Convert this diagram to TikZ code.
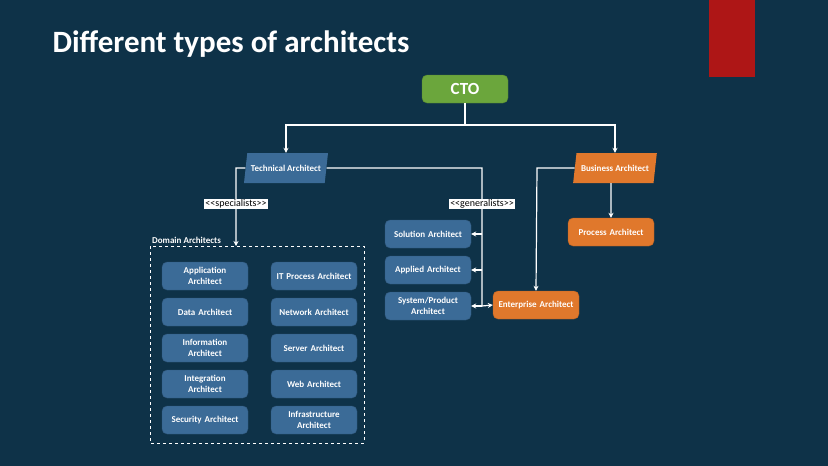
\documentclass[tikz,border=0pt]{standalone}
\usepackage{fontspec}
\setmainfont{Carlito}
\usetikzlibrary{shapes.geometric,arrows.meta}
\definecolor{bg}{HTML}{0E3248}
\definecolor{nblue}{HTML}{3B6B97}
\definecolor{norange}{HTML}{E0782C}
\definecolor{ngreen}{HTML}{6BA63C}
\definecolor{bred}{HTML}{AE1616}
\tikzset{
 x=1pt,y=-1pt,
 box/.style={rounded corners=5pt,minimum width=86pt,minimum height=28pt,text width=78pt,align=center,font=\fontsize{9}{10.5}\selectfont\bfseries,text=white,inner sep=1pt},
 bluebox/.style={box,fill=nblue,draw=nblue!80!black},
 orbox/.style={box,fill=norange,draw=norange!80!black},
 para/.style={trapezium,trapezium left angle=70,trapezium right angle=110,minimum width=84pt,minimum height=30pt,inner sep=1pt,font=\fontsize{9}{10.5}\selectfont\bfseries,text=white,trapezium stretches=true},
 conn/.style={draw=white,line width=1.2pt,-{Stealth[length=5pt,width=5pt]}},
 line/.style={draw=white,line width=1.2pt},
 tag/.style={fill=white,text=black,font=\fontsize{10}{11}\selectfont,inner sep=1pt}
}
\begin{document}
\begin{tikzpicture}
\fill[bg] (0,0) rectangle (828,466);
\useasboundingbox (0,0) rectangle (828,466);
\fill[bred] (709,0) rectangle (755,77);
\node[anchor=west,text=white,font=\fontsize{31}{34}\selectfont\bfseries] (title) at (49,44) {Different types of architects};
\node[box,fill=ngreen,draw=ngreen!80!black,minimum height=28pt,font=\fontsize{17}{19}\selectfont\bfseries] (cto) at (465,89) {CTO};
\node[para,fill=nblue] (tech) at (286,168) {Technical Architect};
\node[para,fill=norange] (bus) at (615,168) {Business Architect};
\node[orbox] (proc) at (611,232) {Process Architect};
\node[orbox] (ent) at (536,305) {Enterprise Architect};
\node[bluebox] (sol) at (428,234) {Solution Architect};
\node[bluebox] (app) at (428,270) {Applied Architect};
\node[bluebox] (sys) at (428,306) {System/Product Architect};
\draw[white,dashed,line width=0.8pt] (150,246) rectangle (364,443);
\coordinate (dtop) at (236,246);
\node[anchor=south west,text=white,font=\fontsize{9}{10.5}\selectfont\bfseries,inner sep=1pt] (dlab) at (151,245) {Domain Architects};
\foreach \n/\t/\y in {a1/Application Architect/276,a2/Data Architect/312,a3/Information Architect/348,a4/Integration Architect/384,a5/Security Architect/420}
  \node[bluebox] (\n) at (205,\y) {\t};
\foreach \n/\t/\y in {b1/IT Process Architect/276,b2/Network Architect/312,b3/Server Architect/348,b4/Web Architect/384,b5/Infrastructure Architect/420}
  \node[bluebox] (\n) at (314,\y) {\t};
% CTO connectors
\draw[line] (cto.south) -- (465,125);
\draw[conn] (465,125) -| (tech.north);
\draw[conn] (465,125) -| (bus.north);
% Technical
\draw[conn] (tech.west) -- (236,168) -- (dtop);
\draw[line] (tech.east) -- (482,168) -- (482,306);
\draw[conn] (482,234) -- (sol.east);
\draw[conn] (482,270) -- (app.east);
\draw[conn] (482,306) -- (sys.east);
\draw[conn] (482,306) -- (ent.west);
\node[tag] (spec) at (236,204) {<{}<specialists>{}>};
\node[tag] (gen) at (482,204) {<{}<generalists>{}>};
% Business
\draw[conn] (bus.west) -- (537,168) -- (ent.north);
\draw[conn] (bus.south) ++(-4,0) -- (proc.north);
\end{tikzpicture}
\end{document}
